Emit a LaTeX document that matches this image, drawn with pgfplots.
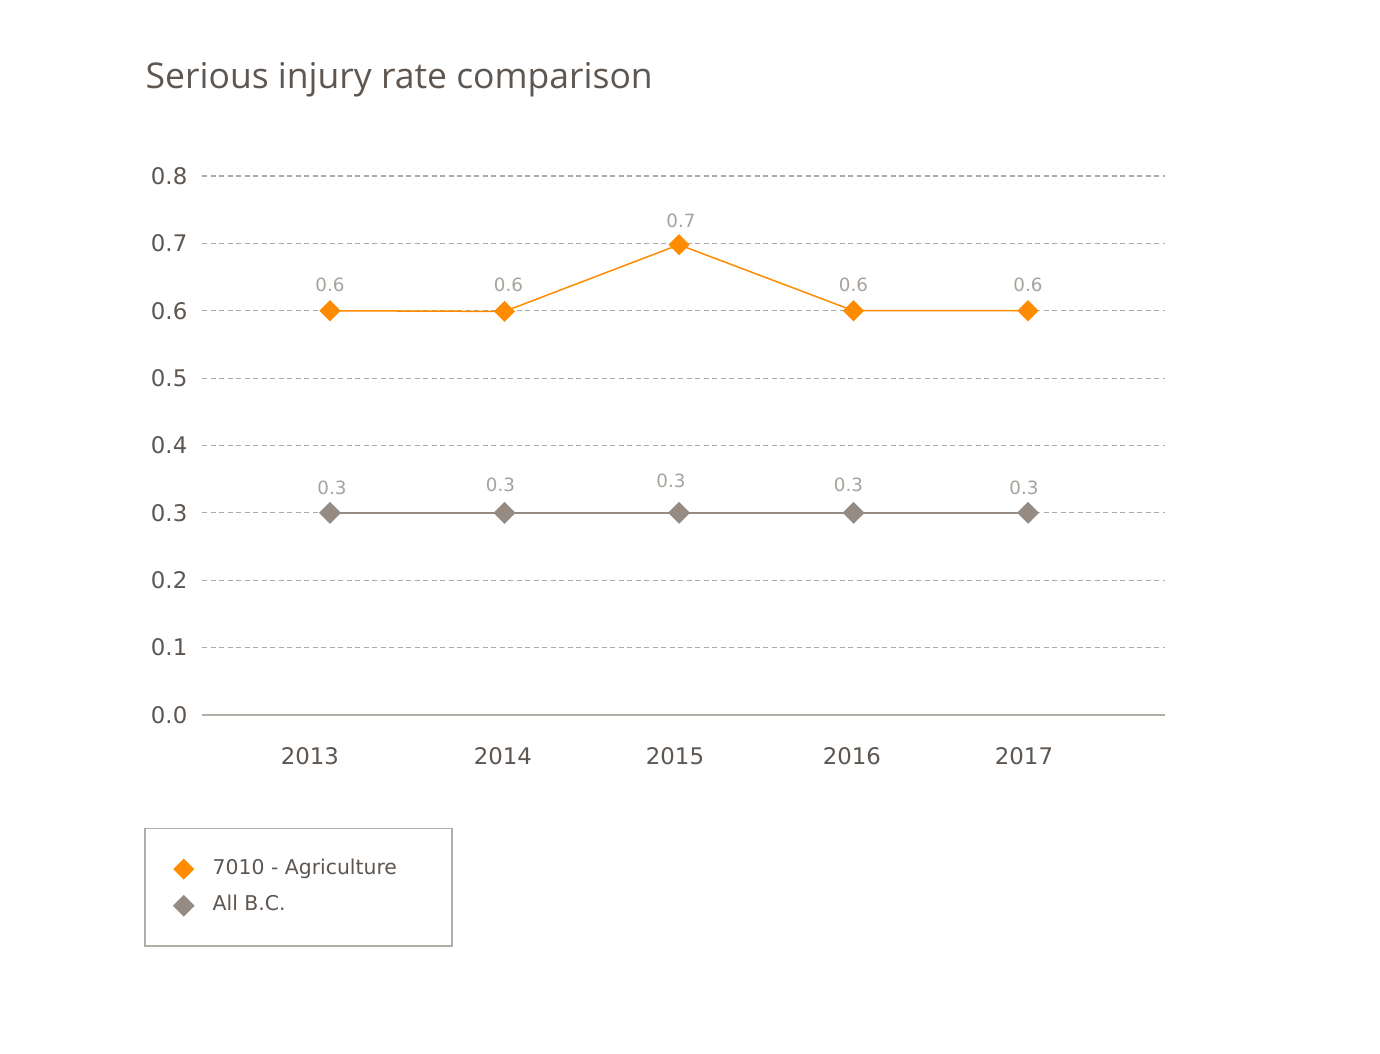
\documentclass[border=0pt]{standalone}
\usepackage{pgfplots}
\pgfplotsset{compat=1.18}
\usepackage{pgfplotstable}
\usepackage{fontspec}
\setmainfont{DejaVu Sans}
\newfontfamily\titlefont{Open Sans}

\definecolor{agri}{HTML}{FF8C00}
\definecolor{allbc}{HTML}{968B82}
\definecolor{txt}{HTML}{5E5650}
\definecolor{lbl}{HTML}{A8A29C}
\definecolor{gridc}{HTML}{ABABAB}
\definecolor{boxc}{HTML}{B3ADA8}

% x: 0 = 2013 ... 4 = 2017; dx, dy = label offset from the point (mm)
\pgfplotstableread{
x y dx dy
0 0.600 0.0 2.6
1 0.599 0.4 2.7
2 0.698 0.2 2.4
3 0.600 0.0 2.6
4 0.600 0.0 2.6
}\agri

\pgfplotstableread{
x y dx dy
0 0.300 0.2 2.5
1 0.300 -0.4 2.8
2 0.300 -0.8 3.2
3 0.300 -0.5 2.8
4 0.300 -0.4 2.5
}\allbc

\begin{document}
\begin{tikzpicture}
\fill[white] (0,0) rectangle (138mm,105.4mm);
\useasboundingbox (0,0) rectangle (138mm,105.4mm);

\node[anchor=base west, inner sep=0, text=txt,
      font=\titlefont\fontsize{10.1}{12}\selectfont] at (14.5mm,96.5mm)
     {Serious injury rate comparison};

\begin{axis}[
    at={(20.2mm,33.9mm)}, anchor=south west,
    scale only axis, width=96.3mm, height=53.9mm,
    xmin=-0.7335, xmax=4.785, ymin=0, ymax=0.8,
    axis x line*=bottom, axis y line*=left,
    x axis line style={-, draw=boxc, line width=0.2mm},
    y axis line style={draw=none},
    major tick length=0,
    /pgf/number format/assume math mode=true,
    xtick={-0.115,0.991,1.977,2.991,3.977},
    xticklabels={2013,2014,2015,2016,2017},
    ytick={0,0.1,0.2,0.3,0.4,0.5,0.6,0.7,0.8},
    yticklabel style={/pgf/number format/fixed, /pgf/number format/fixed zerofill,
        /pgf/number format/precision=1, anchor=east, inner sep=0, xshift=-1.4mm},
    xticklabel style={anchor=north, inner sep=0, yshift=-3.17mm},
    ticklabel style={font=\fontsize{6.5}{7.8}\selectfont, text=txt},
    ymajorgrids,
    grid style={draw=gridc, line width=0.12mm, dash pattern=on 0.5mm off 0.35mm},
    clip=false,
    nodes near coords,
    visualization depends on={\thisrow{dx} \as \dx},
    visualization depends on={\thisrow{dy} \as \dy},
    every node near coord/.append style={/pgf/number format/fixed,
        /pgf/number format/fixed zerofill, /pgf/number format/precision=1,
        /pgf/number format/assume math mode=true,
        anchor=center, inner sep=0,
        xshift=\dx*1mm, yshift=\dy*1mm, text=lbl,
        font=\fontsize{5.2}{6.2}\selectfont},
    legend style={at={(-0.0602,-0.2096)}, anchor=north west,
        draw=boxc, line width=0.15mm, inner xsep=2.95mm, inner ysep=3.0mm,
        font=\fontsize{5.8}{7}\selectfont, text=txt,
        nodes={inner sep=0}, column sep=1.95mm, row sep=1.6mm},
    legend cell align=left,
    legend image code/.code={\draw[#1, only marks] plot coordinates {(0mm,0mm)};},
]
\addplot[agri, line width=0.15mm, mark=square*, mark size=0.67mm,
         mark options={rotate=45, solid, fill=agri, draw=agri}]
    table[x=x, y=y] {\agri};
\addlegendentry{\makebox[21mm][l]{7010 - Agriculture}}
\addplot[allbc, line width=0.2mm, mark=square*, mark size=0.67mm,
         mark options={rotate=45, solid, fill=allbc, draw=allbc}]
    table[x=x, y=y] {\allbc};
\addlegendentry{\makebox[21mm][l]{All B.C.}\rule[-1.9mm]{0pt}{0pt}}
\end{axis}
\end{tikzpicture}
\end{document}
